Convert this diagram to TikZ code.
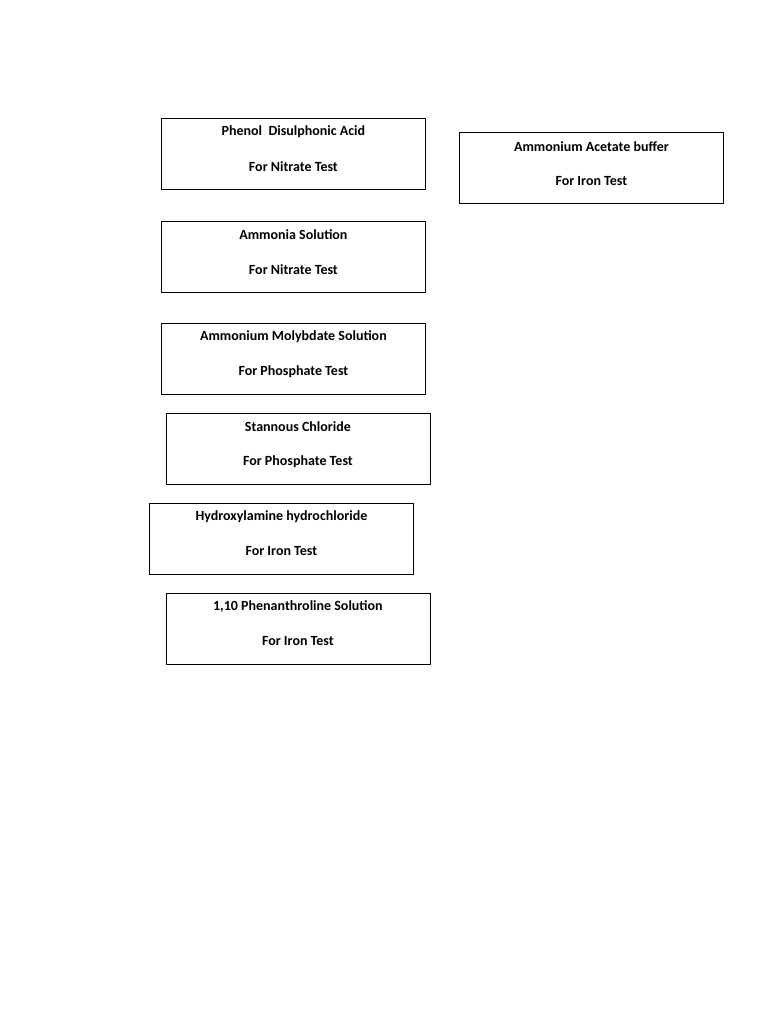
\documentclass[tikz,border=0pt]{standalone}
\usepackage{fontspec}
\setmainfont{Carlito}
\usetikzlibrary{calc}
\newcommand\mybox[5]{%
  \node[box,anchor=north west] (#1) at (#2,#3) {};
  \node[lbl] (#1a) at ($(#1.north)+(0,14)$) {#4};
  \node[lbl] (#1b) at ($(#1.north)+(0,48.5)$) {#5};}
\begin{document}
\begin{tikzpicture}[x=1pt,y=-1pt,
  box/.style={draw,line width=0.8pt,inner sep=0pt,minimum width=264pt,minimum height=71pt},
  lbl/.style={inner sep=0pt,font=\fontsize{14}{16}\selectfont\bfseries}]
\useasboundingbox (0,0) rectangle (768,1024);
\mybox{b1}{161}{118}{Phenol~ Disulphonic Acid}{For Nitrate Test}
\mybox{b2}{459}{132.5}{Ammonium Acetate buffer}{For Iron Test}
\mybox{b3}{161}{221}{Ammonia Solution}{For Nitrate Test}
\mybox{b4}{161}{323}{Ammonium Molybdate Solution}{For Phosphate Test}
\mybox{b5}{165.5}{413}{Stannous Chloride}{For Phosphate Test}
\mybox{b6}{149}{502.5}{Hydroxylamine hydrochloride}{For Iron Test}
\mybox{b7}{165.5}{593}{1,10 Phenanthroline Solution}{For Iron Test}
\end{tikzpicture}
\end{document}
